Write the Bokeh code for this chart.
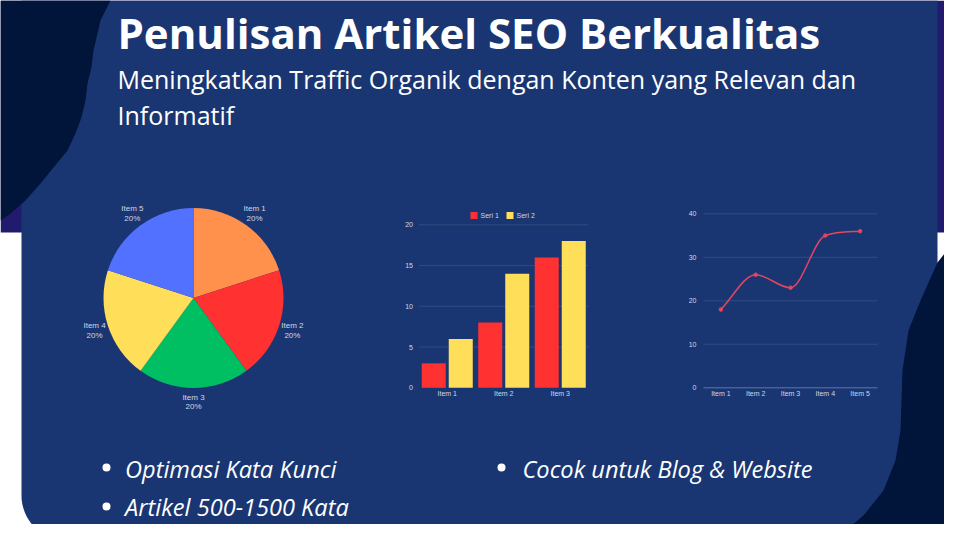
import numpy as np
from bokeh.plotting import figure
from bokeh.models import Range1d
from bokeh.core.properties import value
from bokeh.embed import file_html
from bokeh.resources import INLINE

# ---- data ----
title = "Penulisan Artikel SEO Berkualitas"
subtitle_lines = ["Meningkatkan Traffic Organik dengan Konten yang Relevan dan", "Informatif"]
bullets_left = ["Optimasi Kata Kunci", "Artikel 500-1500 Kata"]
bullets_right = ["Cocok untuk Blog & Website"]

pie_items = ["Item 1", "Item 2", "Item 3", "Item 4", "Item 5"]
pie_values = [20, 20, 20, 20, 20]
pie_colors = ["#ff914d", "#ff3131", "#00bf63", "#ffde59", "#5271ff"]

bar_items = ["Item 1", "Item 2", "Item 3"]
bar_series = ["Seri 1", "Seri 2"]
seri1 = [3, 8, 16]
seri2 = [6, 14, 18]
bar_colors = ["#ff3131", "#ffde59"]
bar_ticks = [0, 5, 10, 15, 20]

line_items = ["Item 1", "Item 2", "Item 3", "Item 4", "Item 5"]
line_values = [18, 26, 23, 35, 36]
line_ticks = [0, 10, 20, 30, 40]

# ---- colours ----
NAVY = "#1a3672"
DARK = "#01143a"
PURPLE = "#201b6d"
TICK = "#cfd6e6"
LINE = "#e4465e"
FONT = value("Open Sans")
CHART_FONT = value("Liberation Sans")

p = figure(width=944, height=524, x_range=Range1d(0, 944), y_range=Range1d(524, 0),
           x_axis_type=None, y_axis_type=None, toolbar_location=None,
           output_backend="svg", min_border=0, outline_line_color=None,
           background_fill_color="white", border_fill_color="white")

# ---- background shapes ----
p.quad(left=0, right=960, top=0, bottom=232, fill_color=PURPLE, line_color=None)

t = np.linspace(0, np.pi / 2, 20)
rc = 45
panel_x = [21, 21] + list(21 + rc - rc * np.cos(t)) + [937, 937]
panel_y = [0, 540 - rc] + list(540 - rc + rc * np.sin(t)) + [540, 0]
p.patch(panel_x, panel_y, fill_color=NAVY, line_color=None)

blob_l_x = [0, 110, 100, 97, 93, 91, 87, 85, 81, 75, 67, 53, 40, 25, 10, 0]
blob_l_y = [0, 0, 20, 33, 50, 67, 83, 100, 117, 133, 150, 167, 183, 200, 213, 220]
p.patch(blob_l_x, blob_l_y, fill_color=DARK, line_color=None)

blob_r_x = [960, 937, 920, 908, 902, 900, 895, 883, 863, 833, 960]
blob_r_y = [233, 262, 300, 330, 370, 430, 460, 490, 515, 540, 540]
p.patch(blob_r_x, blob_r_y, fill_color=DARK, line_color=None)

# ---- titles (baseline positions, nudged for how the text box is laid out) ----
def base(y, size):
    return y - 0.36 * size

p.text(x=[117], y=[base(47, 42)], text=[title], text_font=FONT, text_font_style="bold",
       text_font_size="42px", text_color="white", text_baseline="alphabetic")
p.text(x=[117, 117], y=[base(87.5, 25), base(123, 25)], text=subtitle_lines, text_font=FONT,
       text_font_size="25px", text_color="white", text_baseline="alphabetic")

# ---- pie ----
cx, cy, rad = 193, 297.5, 90
frac = np.cumsum([0] + pie_values) / sum(pie_values) * 2 * np.pi
starts = np.pi / 2 - frac[:-1]
ends = np.pi / 2 - frac[1:]
p.wedge(x=cx, y=cy, radius=rad, start_angle=list(starts), end_angle=list(ends),
        direction="clock", fill_color=pie_colors, line_color=None)
mid = (starts + ends) / 2
lr = 104
pie_labels = [f"{n}\n{v / sum(pie_values) * 100:.0f}%" for n, v in zip(pie_items, pie_values)]
p.text(x=list(cx + lr * np.cos(mid)), y=list(cy - lr * np.sin(mid)), text=pie_labels,
       text_font=CHART_FONT, text_font_size="8px", text_color=TICK,
       text_align="center", text_baseline="middle", text_line_height=1.1)

# ---- bar chart ----
bar = p.subplot(x_source=Range1d(0, len(bar_items)), y_source=Range1d(0, 20),
                x_target=Range1d(418.5, 588), y_target=Range1d(387.3, 224.3))
bx = np.arange(len(bar_items)) + 0.5
bar.segment(x0=0, x1=len(bar_items), y0=bar_ticks[1:], y1=bar_ticks[1:],
            line_color="white", line_alpha=0.1, line_width=1)
bar.vbar(x=list(bx - 0.239), top=seri1, bottom=0, width=0.425, fill_color=bar_colors[0], line_color=None)
bar.vbar(x=list(bx + 0.239), top=seri2, bottom=0, width=0.425, fill_color=bar_colors[1], line_color=None)
bar.text(x=0, y=bar_ticks, text=[str(v) for v in bar_ticks], x_offset=-6,
         text_align="right", text_baseline="middle", text_font=CHART_FONT,
         text_font_size="7px", text_color=TICK)
bar.text(x=list(bx), y=0, text=bar_items, y_offset=6, text_align="center",
         text_baseline="middle", text_font=CHART_FONT, text_font_size="7px", text_color=TICK)

# legend
leg_x = [470, 506]
p.rect(x=[lx + 3.5 for lx in leg_x], y=215, width=7, height=7, fill_color=bar_colors, line_color=None)
p.text(x=[lx + 10 for lx in leg_x], y=215, text=bar_series, text_baseline="middle",
       text_font=CHART_FONT, text_font_size="7px", text_color=TICK)

# ---- line chart ----
ln = p.subplot(x_source=Range1d(0, len(line_items)), y_source=Range1d(0, 40),
               x_target=Range1d(703, 877), y_target=Range1d(387.3, 213.3))
lx_ = np.arange(len(line_items)) + 0.5
ly_ = np.array(line_values, dtype=float)
ln.segment(x0=0, x1=len(line_items), y0=line_ticks[1:], y1=line_ticks[1:],
           line_color="white", line_alpha=0.1, line_width=1)
ln.segment(x0=[0], x1=[len(line_items)], y0=[0], y1=[0], line_color="#8da0c8", line_alpha=0.6, line_width=1)

# monotone cubic control points (same rule as the original chart's smoothing)
d = np.diff(ly_) / np.diff(lx_)
m = np.zeros(len(ly_))
m[0], m[-1] = d[0], d[-1]
for i in range(1, len(ly_) - 1):
    m[i] = 0 if np.sign(d[i - 1]) != np.sign(d[i]) else (d[i - 1] + d[i]) / 2
for i in range(len(d)):
    if d[i] == 0:
        m[i] = m[i + 1] = 0
        continue
    a, b = m[i] / d[i], m[i + 1] / d[i]
    s = a * a + b * b
    if a >= 0 and b >= 0 and s > 9:
        tau = 3 / np.sqrt(s)
        m[i], m[i + 1] = a * tau * d[i], b * tau * d[i]
h = np.diff(lx_) / 3
ln.bezier(x0=list(lx_[:-1]), y0=list(ly_[:-1]), x1=list(lx_[1:]), y1=list(ly_[1:]),
          cx0=list(lx_[:-1] + h), cy0=list(ly_[:-1] + m[:-1] * h),
          cx1=list(lx_[1:] - h), cy1=list(ly_[1:] - m[1:] * h),
          line_color=LINE, line_width=1.5)
ln.scatter(x=list(lx_), y=line_values, size=3.5, fill_color=LINE, line_color=LINE)
ln.text(x=0, y=line_ticks, text=[str(v) for v in line_ticks], x_offset=-7,
        text_align="right", text_baseline="middle", text_font=CHART_FONT,
        text_font_size="7px", text_color=TICK)
ln.text(x=list(lx_), y=0, text=line_items, y_offset=6, text_align="center",
        text_baseline="middle", text_font=CHART_FONT, text_font_size="7px", text_color=TICK)

# ---- bullets ----
p.scatter(x=[106, 106, 501], y=[467, 506, 467], size=8, fill_color="white", line_color=None)
p.text(x=[124.5, 124.5], y=[base(477, 23.6), base(515, 23.6)], text=bullets_left, text_font=FONT,
       text_font_style="italic", text_font_size="23.6px", text_color="white", text_baseline="alphabetic")
p.text(x=[522], y=[base(477, 23.6)], text=bullets_right, text_font=FONT, text_font_style="italic",
       text_font_size="23.6px", text_color="white", text_baseline="alphabetic")

open("out.html", "w").write(file_html(p, INLINE))
